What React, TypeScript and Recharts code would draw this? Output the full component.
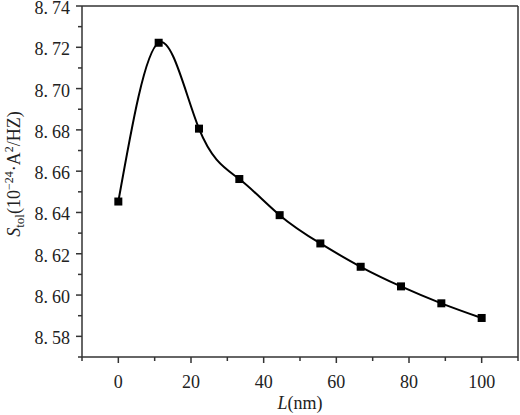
import { Line, LineChart, ReferenceLine, XAxis, YAxis } from 'recharts';

document.body.style.margin = '0';

const lengths = [0, 11.1, 22.2, 33.3, 44.4, 55.6, 66.7, 77.8, 88.9, 100];
const noise = [8.6453, 8.7222, 8.6806, 8.6562, 8.6387, 8.625, 8.6137, 8.6042, 8.596, 8.5889];

const xTicks = [-10, 0, 10, 20, 30, 40, 50, 60, 70, 80, 90, 100, 110];
const yTicks = [8.57, 8.58, 8.59, 8.6, 8.61, 8.62, 8.63, 8.64, 8.65, 8.66, 8.67, 8.68, 8.69, 8.7, 8.71, 8.72, 8.73, 8.74];

const data = lengths.map((l, i) => ({ l, s: noise[i] }));

const FONT = '"Liberation Serif", "DejaVu Serif", serif';
const AXIS = '#333';
const textStyle = { fontFamily: FONT, fontSize: 18 };

const XTick = ({ x, y, payload }: any) => {
    const major = payload.value % 20 === 0;
    return (
        <g>
            <line x1={x} x2={x} y1={y} y2={y + (major ? 6 : 4)} stroke={AXIS} strokeWidth={1.5} />
            {major && (
                <text x={x} y={y + 31} textAnchor="middle" style={textStyle} fill="#222">
                    {payload.value}
                </text>
            )}
        </g>
    );
};

const YTick = ({ x, y, payload }: any) => {
    const major = Math.round(payload.value * 100) % 2 === 0;
    const [whole, frac] = payload.value.toFixed(2).split('.');
    return (
        <g>
            <line x1={x} x2={x - (major ? 6 : 4)} y1={y} y2={y} stroke={AXIS} strokeWidth={1.5} />
            {major && (
                <text x={x - 12} y={y + 8} textAnchor="end" style={textStyle} fill="#222">
                    {whole}.<tspan dx={4}>{frac}</tspan>
                </text>
            )}
        </g>
    );
};

const SquareDot = ({ cx, cy }: any) => (
    <rect x={cx - 4} y={cy - 4} width={8} height={8} fill="#000" />
);

export default function App() {
    return (
        <div style={{ position: 'relative', width: 520, height: 415, background: '#fff' }}>
            <LineChart width={520} height={415} data={data} margin={{ top: 6, right: 2, bottom: 0, left: 0 }}>
                <XAxis
                    dataKey="l"
                    type="number"
                    domain={[-10, 110]}
                    ticks={xTicks}
                    interval={0}
                    height={58}
                    tickSize={0}
                    tickMargin={0}
                    tick={<XTick />}
                    axisLine={{ stroke: AXIS, strokeWidth: 1.5 }}
                    allowDataOverflow
                />
                <YAxis
                    type="number"
                    domain={[8.57, 8.74]}
                    ticks={yTicks}
                    interval={0}
                    width={82}
                    tickSize={0}
                    tickMargin={0}
                    tick={<YTick />}
                    axisLine={{ stroke: AXIS, strokeWidth: 1.5 }}
                    allowDataOverflow
                />
                <ReferenceLine y={8.74} stroke={AXIS} strokeWidth={1.5} />
                <ReferenceLine x={110} stroke={AXIS} strokeWidth={1.5} />
                <Line
                    dataKey="s"
                    type="natural"
                    stroke="#000"
                    strokeWidth={2}
                    dot={<SquareDot />}
                    activeDot={false}
                    isAnimationActive={false}
                />
                <text x={300} y={409} textAnchor="middle" style={textStyle} fill="#222">
                    <tspan fontStyle="italic">L</tspan>
                    <tspan>(nm)</tspan>
                </text>
                <text
                    transform="translate(20, 174) rotate(-90)"
                    textAnchor="middle"
                    style={textStyle}
                    fill="#222"
                >
                    <tspan fontStyle="italic">S</tspan>
                    <tspan style={{ fontSize: 13 }} dy={4}>tol</tspan>
                    <tspan dy={-4}>(10</tspan>
                    <tspan style={{ fontSize: 12 }} dy={-7}>−24</tspan>
                    <tspan dy={7}>·A</tspan>
                    <tspan style={{ fontSize: 12 }} dy={-7}>2</tspan>
                    <tspan dy={7}>/HZ)</tspan>
                </text>
            </LineChart>
        </div>
    );
}
